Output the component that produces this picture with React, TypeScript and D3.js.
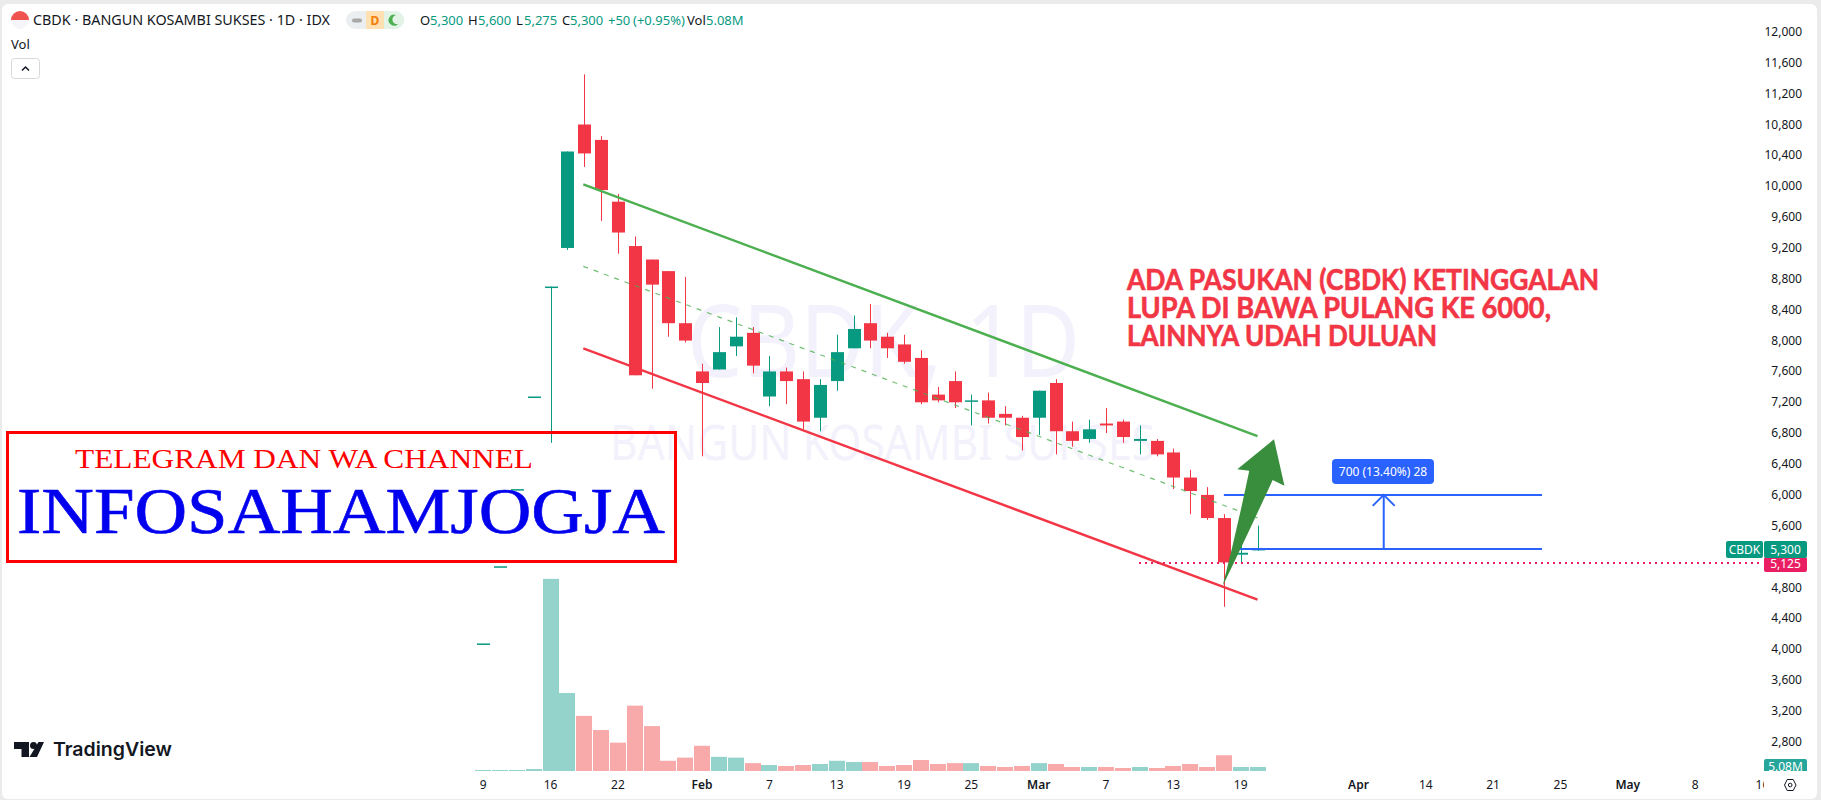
import React from 'react';
import * as d3 from 'd3';

// [open, high, low, close] per daily bar
const opens = [4075,5075,6075,7275,8700,9200,10800,10600,9800,9225,9050,8900,8225,7600,7625,7925,8100,7275,7600,7500,7000,7475,7900,8225,8050,7950,7775,7300,7475,7225,7225,7050,7000,7000,7450,6825,6725,6925,6950,6700,6700,6550,6225,6000,5700,5225,5300];
const highs = [4075,5075,6075,7275,8700,10450,11450,10650,9900,9350,9050,8900,8825,7700,8175,8300,8175,7800,7650,7600,7500,8075,8325,8475,8100,8075,7875,7400,7600,7300,7325,7150,7025,7350,7500,6950,6975,7125,6975,6900,6725,6600,6325,6100,5750,5400,5600];
const lows = [4075,5075,6075,7275,6675,9175,10250,9550,9125,7550,7375,8050,7975,6500,7625,7800,7575,7150,7175,6850,6825,7350,7900,7900,7775,7700,7175,7200,7125,6900,6925,6900,6575,6775,6525,6625,6675,6800,6675,6525,6500,6075,5750,5675,4550,5125,5275];
const closes = [4075,5075,6075,7275,8700,10450,10425,9950,9400,7550,8725,8225,8000,7450,7850,8050,7675,7600,7475,6950,7425,7850,8150,8000,7900,7725,7200,7225,7200,7225,7000,7000,6750,7350,6825,6700,6850,6900,6750,6725,6525,6225,6050,5700,5125,5250,5300];
const volumesM = [1.3,1.3,1.3,2.5,244,99,70,52,36,83,57,13,17,32,18,17,10,7.6,6.4,7.6,8.9,13,11.4,11.4,6.4,7.6,14,8.9,10,10,6.4,5.1,6.4,10,8.9,5.1,5.08,5.1,3.8,5.1,3.8,6.4,8.9,5.1,20,5.08,5.08];
const yTicks = [12000,11600,11200,10800,10400,10000,9600,9200,8800,8400,8000,7600,7200,6800,6400,6000,5600,4800,4400,4000,3600,3200,2800];
const xTickBars = [0,4,8,13,17,21,25,29,33,37,41,45,52,56,60,64,68,72,76];
const xTickLabels = ['9','16','22','Feb','7','13','19','25','Mar','7','13','19','Apr','14','21','25','May','8','16'];
const greenLine = [[5.94,10025],[46,6763]];
const midLine = [[5.94,8962],[46,5702]];
const redLine = [[5.94,7900],[46,4642]];
const bigArrow = {tip:[43.93,4819],c1:[44.78,5545],n1:[45.51,6313],wing:[44.8,6332],top:[46.98,6720],right:[47.6,6119],n2:[46.9,6193],c2:[45.26,5415]};
const noteLines = ['ADA PASUKAN (CBDK) KETINGGALAN','LUPA DI BAWA PULANG KE 6000,','LAINNYA UDAH DULUAN'];
const noteWidths = [472,424,310];
const legendParts = [
  ['O',420,'#131722'],['5,300',430,'#089981'],['H',468,'#131722'],['5,600',478,'#089981'],['L',516,'#131722'],['5,275',524,'#089981'],
  ['C',562,'#131722'],['5,300',570,'#089981'],['+50',608,'#089981'],['(+0.95%)',633,'#089981'],['Vol',687,'#131722'],['5.08M',706,'#089981'],
];

const UP = '#089981', DOWN = '#f23645', BLUE = '#2962ff';
const UI = '"Noto Sans", sans-serif';

export default function App() {
  const x = d3.scaleLinear().domain([0, 46]).range([483.3, 1257.5]);
  const y = d3.scaleLinear().domain([4800, 12000]).range([587.5, 31.9]);
  const v = d3.scaleLinear().domain([0, 1.27]).range([771, 770]);
  const line = d3.line<number[]>().x(d => x(d[0])).y(d => y(d[1]));
  const P = (p: number[]) => `${x(p[0])},${y(p[1])}`;
  const a = bigArrow;
  const arrowD = `M${P(a.tip)}Q${P(a.c1)} ${P(a.n1)}L${P(a.wing)}L${P(a.top)}L${P(a.right)}L${P(a.n2)}Q${P(a.c2)} ${P(a.tip)}Z`;
  const barW = 13;
  const y6 = y(6000), y53 = y(5300), y51 = y(5125);
  const longL = x(44), longR = 1542, longMid = x(53.5);

  return (
    <svg width={1821} height={805} viewBox="0 0 1821 805" style={{ position: 'fixed', left: 0, top: 0, display: 'block' }}>
      <defs>
        <clipPath id="xclip"><rect x={0} y={770} width={1764} height={30} /></clipPath>
        <clipPath id="vclip"><rect x={1700} y={755} width={120} height={16} /></clipPath>
      </defs>
      <rect width={1821} height={805} fill="#ebebeb" />
      <rect x={2} y={4} width={1815} height={795} rx={6} fill="#fff" />
      <rect x={0} y={800} width={1821} height={5} fill="#fff" />

      {/* watermark */}
      <text x={687} y={377} fontFamily={UI} fontSize={100} fill="#f3f1fb" textLength={393} lengthAdjust="spacingAndGlyphs">CBDK, 1D</text>
      <text x={610} y={460} fontFamily={UI} fontSize={49} fill="#f3f1fb" textLength={545} lengthAdjust="spacingAndGlyphs">BANGUN KOSAMBI SUKSES</text>

      {/* volume */}
      {volumesM.map((m, i) => (
        <rect key={i} x={Math.round(x(i)) - 8} y={v(m)} width={16} height={771 - v(m)} fill={closes[i] >= opens[i] ? '#93d3cb' : '#f8a9a9'} />
      ))}

      {/* candles */}
      {opens.map((o, i) => {
        const c = closes[i];
        const col = c >= o ? UP : DOWN;
        const cx = Math.round(x(i));
        const top = y(Math.max(o, c));
        const h = Math.max(1.5, Math.abs(y(o) - y(c)));
        return (
          <g key={i}>
            {highs[i] !== lows[i] && <line x1={cx + 0.5} x2={cx + 0.5} y1={y(highs[i])} y2={y(lows[i])} stroke={col} strokeWidth={1} />}
            <rect x={cx - 6} y={top} width={barW} height={h} fill={col} />
          </g>
        );
      })}

      {/* drawings */}
      <path d={line(greenLine)!} stroke="#4caf50" strokeWidth={2.4} fill="none" />
      <path d={line(midLine)!} stroke="#4caf50" strokeOpacity={0.8} strokeWidth={1.2} strokeDasharray="5 6" fill="none" />
      <path d={line(redLine)!} stroke={DOWN} strokeWidth={2.4} fill="none" />
      <line x1={1139} x2={1760} y1={y51 + 0.5} y2={y51 + 0.5} stroke="#e91e63" strokeWidth={2} strokeDasharray="2 4" />
      <line x1={longL} x2={longR} y1={y6} y2={y6} stroke={BLUE} strokeWidth={2} />
      <line x1={x(44.5)} x2={longR} y1={y53} y2={y53} stroke={BLUE} strokeWidth={2} />
      <line x1={longMid} x2={longMid} y1={y53} y2={y6} stroke={BLUE} strokeWidth={2} />
      <path d={`M${longMid - 11},${y6 + 11}L${longMid},${y6}L${longMid + 11},${y6 + 11}`} stroke={BLUE} strokeWidth={2} fill="none" />
      <rect x={1332} y={459} width={102} height={25} rx={4} fill={BLUE} />
      <text x={1383} y={475.5} textAnchor="middle" fontFamily={UI} fontSize={12} fill="#fff">700 (13.40%) 28</text>
      <path d={arrowD} fill="#388e3c" />

      {/* note */}
      {noteLines.map((t, i) => (
        <text key={i} x={1127} y={290 + i * 28} fontFamily='Lato, sans-serif' fontWeight={700} fontSize={28} fill={DOWN} stroke={DOWN} strokeWidth={0.6} textLength={noteWidths[i]} lengthAdjust="spacingAndGlyphs">{t}</text>
      ))}

      {/* banner */}
      <rect x={7.5} y={432.5} width={668} height={129} fill="none" stroke="#ff0000" strokeWidth={3} />
      <text x={75} y={468} fontFamily='"Liberation Serif", serif' fontSize={28} fill="#ff0000" textLength={458} lengthAdjust="spacingAndGlyphs">TELEGRAM DAN WA CHANNEL</text>
      <text x={17} y={533} fontFamily='"Liberation Serif", serif' fontSize={65} fill="#0000ee" stroke="#0000ee" strokeWidth={0.6} textLength={648} lengthAdjust="spacingAndGlyphs">INFOSAHAMJOGJA</text>

      {/* y axis */}
      {yTicks.map(t => (
        <text key={t} x={1802} y={y(t) + 4} textAnchor="end" fontFamily={UI} fontSize={12} fill="#131722">{d3.format(',')(t)}</text>
      ))}
      <rect x={1764} y={557} width={43} height={15} rx={2} fill="#e91e63" />
      <text x={1785.5} y={568} textAnchor="middle" fontFamily={UI} fontSize={12} fill="#fff">5,125</text>
      <rect x={1726} y={541} width={37} height={17} rx={2} fill={UP} />
      <text x={1744.5} y={553.5} textAnchor="middle" fontFamily={UI} fontSize={12} fill="#fff">CBDK</text>
      <rect x={1764} y={541} width={43} height={17} rx={2} fill={UP} />
      <text x={1785.5} y={553.5} textAnchor="middle" fontFamily={UI} fontSize={12} fill="#fff">5,300</text>
      <g clipPath="url(#vclip)">
        <rect x={1764} y={759} width={43} height={20} rx={2} fill="#26a69a" />
        <text x={1785.5} y={771} textAnchor="middle" fontFamily={UI} fontSize={12} fill="#fff">5.08M</text>
      </g>

      {/* x axis */}
      <g clipPath="url(#xclip)">
        {xTickBars.map((b, i) => (
          <text key={i} x={x(b)} y={789} textAnchor="middle" fontFamily={UI} fontSize={12} fontWeight={/[A-Z]/.test(xTickLabels[i]) ? 600 : 400} fill="#131722">{xTickLabels[i]}</text>
        ))}
      </g>
      <path d="M1784.5,785L1787.2,779.5H1793.2L1796,785L1793.2,790.5H1787.2Z" fill="none" stroke="#131722" strokeWidth={1} />
      <circle cx={1790.2} cy={785} r={1.8} fill="none" stroke="#131722" strokeWidth={1} />

      {/* header */}
      <circle cx={20} cy={20} r={9} fill="#f5f5fa" />
      <path d="M11,20A9,9 0 0 1 29,20Z" fill="#f0534f" />
      <text x={33} y={25} fontFamily={UI} fontSize={14} fill="#131722" textLength={297} lengthAdjust="spacingAndGlyphs">CBDK · BANGUN KOSAMBI SUKSES · 1D · IDX</text>
      <rect x={346} y={11} width={58} height={18} rx={9} fill="#eceff1" />
      <path d="M384,11H395A9,9 0 0 1 395,29H384Z" fill="#e3f3e6" />
      <rect x={366} y={11} width={18} height={18} fill="#ffe0b2" />
      <rect x={352} y={18.5} width={10} height={4} rx={2} fill="#a8a8a8" />
      <text x={375} y={25} textAnchor="middle" fontFamily={UI} fontWeight={700} fontSize={12} fill="#f57c00">D</text>
      <path d="M396,15A5.5,5.5 0 1 0 398,24A4.5,4.5 0 0 1 396,15Z" fill="#4caf50" />
      {legendParts.map(([t, lx, c], i) => (
        <text key={i} x={lx as number} y={25} fontFamily={UI} fontSize={13} fill={c as string}>{t}</text>
      ))}
      <text x={11} y={49} fontFamily={UI} fontSize={13} fill="#131722">Vol</text>
      <rect x={11.5} y={58.5} width={28} height={20} rx={3} fill="#fff" stroke="#d8d8dc" />
      <path d="M22,70.5L25.5,67L29,70.5" fill="none" stroke="#131722" strokeWidth={1.5} />

      {/* logo */}
      <path d="M14,742H29V757H21.5V749H14Z" fill="#131722" />
      <circle cx={33.5} cy={745.5} r={3.5} fill="#131722" />
      <path d="M38.5,742H44L37,757H29.5Z" fill="#131722" />
      <text x={53} y={756} fontFamily='Inter, sans-serif' fontWeight={600} fontSize={19} fill="#131722" textLength={119} lengthAdjust="spacingAndGlyphs">TradingView</text>
    </svg>
  );
}
